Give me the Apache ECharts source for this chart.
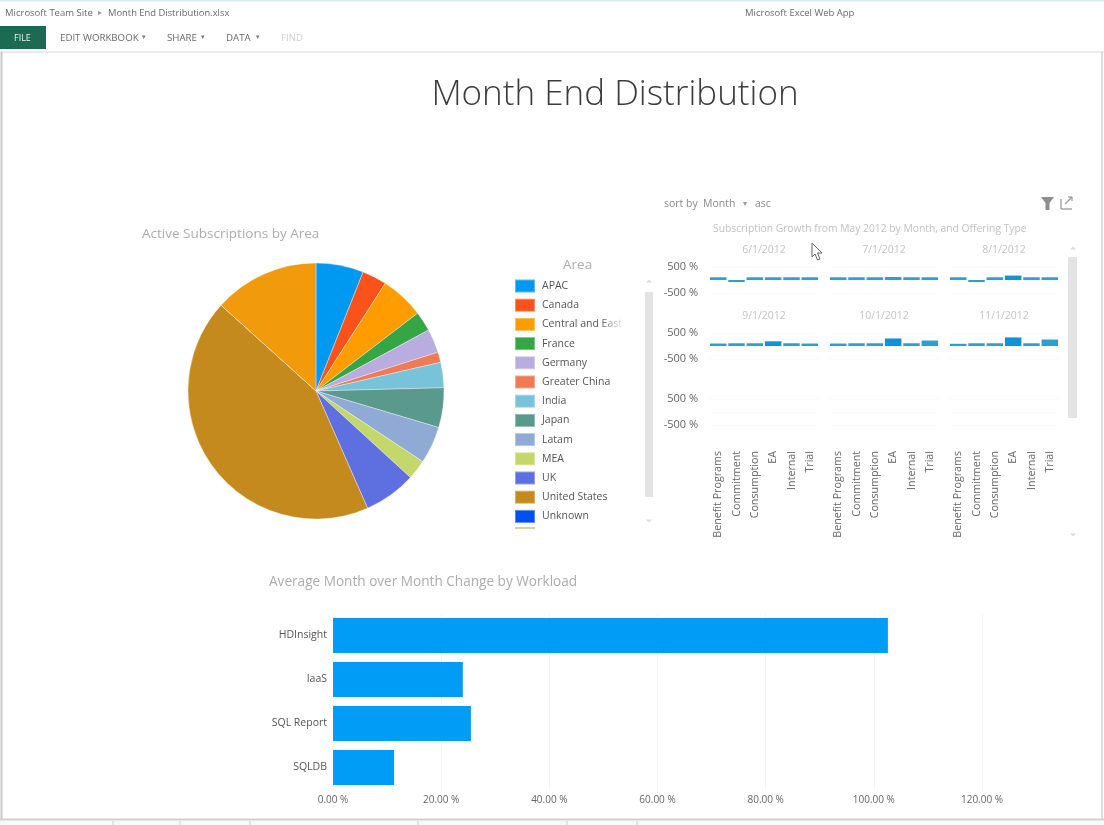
<!DOCTYPE html>
<html><head><meta charset="utf-8">
<style>html,body{margin:0;padding:0;background:#fff}#c{width:1104px;height:825px}</style>
<script src="https://cdn.jsdelivr.net/npm/echarts@6/dist/echarts.min.js"></script>
</head><body><div id="c"></div>
<script>
const areaNames = ['APAC','Canada','Central and East','France','Germany','Greater China','India','Japan','Latam','MEA','UK','United States','Unknown',''];
const areaValues = [6.0,3.1,5.5,2.5,3.0,1.3,3.2,5.0,4.7,2.5,6.6,43.3,0,13.3];
const areaColors = ['#0099f2','#f9521a','#ff9d00','#36a546','#b9addf','#ee7a56','#78c3da','#5a9a8c','#8faad4','#c4d76a','#5e70e0','#c58a1e','#0050ee','#f09a0c'];
const workloads = ['HDInsight','IaaS','SQL Report','SQLDB'];
const workloadChange = [102.6,24,25.5,11.3];
const offerings = ['Benefit Programs','Commitment','Consumption','EA','Internal','Trial'];
const months = ['6/1/2012','7/1/2012','8/1/2012','9/1/2012','10/1/2012','11/1/2012'];
const growth = [
  [105,-80,105,105,105,105],
  [105,105,105,115,105,105],
  [105,-80,105,170,105,105],
  [95,105,105,180,105,95],
  [95,105,105,290,105,210],
  [85,105,105,330,105,250],
  [],[],[]
];
const FONT = '"Open Sans","Noto Sans",sans-serif';

const grids=[], xAxes=[], yAxes=[], bars=[], gfx=[];
const colX=[709,829,949], rowY=[267,333,399];
for(let i=0;i<9;i++){
  const r=Math.floor(i/3), c=i%3;
  grids.push({left:colX[c],top:rowY[r],width:110,height:26,containLabel:false});
  xAxes.push({type:'category',gridIndex:i,data:offerings,axisLine:{show:false},axisTick:{show:false},
    axisLabel:{show:r===2,rotate:90,interval:0,margin:26,fontFamily:FONT,fontSize:10.7,color:'#666'}});
  yAxes.push({type:'value',gridIndex:i,min:-500,max:500,interval:500,axisLine:{show:false},axisTick:{show:false},
    splitLine:{show:true,lineStyle:{color:'#fbfbfb'}},
    axisLabel:{show:c===0,margin:11,padding:[4,0,0,0],fontFamily:FONT,fontSize:11,color:'#666',formatter:v=>v===0?'':v+' %'}});
  bars.push({type:'bar',xAxisIndex:i,yAxisIndex:i,data:growth[i],barWidth:16.5,silent:true,
    itemStyle:{color:p=>p.dataIndex===3&&p.value>130?'#0e92da':'#2d9fd4'}});
}
// bottom horizontal bar chart : grid index 9
grids.push({left:333,top:613.5,width:649,height:176});
xAxes.push({type:'value',gridIndex:9,min:0,max:120,interval:20,axisLine:{show:false},axisTick:{show:false},
  splitLine:{show:true,lineStyle:{color:'#f4f4f4'}},
  axisLabel:{margin:6,fontFamily:FONT,fontSize:10,color:'#666',formatter:v=>v.toFixed(2)+' %'}});
yAxes.push({type:'category',gridIndex:9,data:workloads,inverse:true,axisLine:{show:false},axisTick:{show:false},
  axisLabel:{margin:6,fontFamily:FONT,fontSize:10.5,color:'#555'}});
bars.push({type:'bar',xAxisIndex:9,yAxisIndex:9,data:workloadChange,barWidth:35,silent:true,itemStyle:{color:'#009cf5'}});

const txt=(x,y,t,size,color,extra)=>gfx.push({type:'text',x,y,silent:true,z:20,
  style:Object.assign({text:t,fontFamily:FONT,fontSize:size,fill:color,verticalAlign:'middle',align:'left'},extra||{})});
const rect=(x,y,w,h,fill,extra)=>gfx.push({type:'rect',silent:true,z:19,shape:{x,y,width:w,height:h},style:Object.assign({fill},extra||{})});
const line=(x1,y1,x2,y2,c,w)=>gfx.push({type:'line',silent:true,z:19,shape:{x1,y1,x2,y2},style:{stroke:c,lineWidth:w||1}});
const poly=(pts,fill,stroke)=>gfx.push({type:'polygon',silent:true,z:21,shape:{points:pts},style:{fill,stroke:stroke||null,lineWidth:1}});

// page chrome
rect(0,0,1104,1.5,'#d9eef6');
line(0,52,1104,52,'#d8d8d8',1.2);
line(1.5,52,1.5,819,'#c9c9c9',2);
line(1102,52,1102,819,'#d4d4d4',1.5);
line(0,819.5,1104,819.5,'#cfcfcf',2);
rect(0,821,1104,4,'#f8f8f8');
[113,180,250,418,567,637].forEach(x=>line(x,821,x,825,'#d0d0d0',1));
txt(5,13,'Microsoft Team Site',9.5,'#6a6a6a');
txt(98,13,'▸',8,'#999');
txt(108,13,'Month End Distribution.xlsx',9.4,'#6a6a6a');
txt(745,13,'Microsoft Excel Web App',9.5,'#6a6a6a');
rect(0,26,46,23,'#1c6a51');
txt(14,38,'FILE',9,'#e8f2ee');
txt(60,38,'EDIT WORKBOOK',9.7,'#6a6a6a');
txt(142,37,'▾',7,'#777');
txt(167,38,'SHARE',9.7,'#6a6a6a');
txt(201,37,'▾',7,'#777');
txt(226,38,'DATA',9.7,'#6a6a6a');
txt(256,37,'▾',7,'#777');
txt(281,38,'FIND',9.7,'#cfcfcf');

// sort bar and icons
txt(664,204,'sort by',10.5,'#8a8a8a');
txt(703,204,'Month',10.5,'#8a8a8a');
txt(743,204,'▾',8,'#999');
txt(755,204,'asc',10.5,'#8a8a8a');
poly([[1041,197],[1054,197],[1049.5,203],[1049.5,210],[1045.5,210],[1045.5,203]],'#8e8e8e');
line(1061,199,1061,209,'#9a9a9a',1.3); line(1061,209,1072,209,'#9a9a9a',1.3);
line(1065,204,1072,197,'#9a9a9a',1.2); line(1068,197,1072,197,'#9a9a9a',1.2); line(1072,197,1072,201,'#9a9a9a',1.2);
// cursor
poly([[812,243],[812,257],[815,254],[817.5,260],[820,259],[817.5,253],[822,253]],'#fff','#666');
// scrollbars
rect(645,292,8,205,'#e3e3e3');
rect(1068,257,9,161,'#e3e3e3');
[[649,281,1],[649,521,-1],[1073,248,1],[1073,535,-1]].forEach(a=>poly([[a[0]-3,a[1]+a[2]*1.5],[a[0]+3,a[1]+a[2]*1.5],[a[0],a[1]-a[2]*1.5]],'#dcdcdc'));
// legend: clipped next swatch and fade of the truncated label
rect(515,527,20,2,'#d6d2a0');
gfx.push({type:'rect',silent:true,z:22,shape:{x:600,y:316,width:26,height:15},
  style:{fill:{type:'linear',x:0,y:0,x2:1,y2:0,colorStops:[{offset:0,color:'rgba(255,255,255,0)'},{offset:1,color:'#fff'}]}}});

// chart headings
const titles=[
  {text:'Month End Distribution',left:615,top:78,textAlign:'center',padding:0,textStyle:{fontFamily:FONT,fontSize:35,fontWeight:300,color:'#3c3c3c'}},
  {text:'Active Subscriptions by Area',left:142,top:227,padding:0,textStyle:{fontFamily:FONT,fontSize:13.5,fontWeight:400,color:'#adadad'}},
  {text:'Area',left:563,top:258,padding:0,textStyle:{fontFamily:FONT,fontSize:13.5,fontWeight:400,color:'#adadad'}},
  {text:'Subscription Growth from May 2012 by Month, and Offering Type',left:713,top:224,padding:0,textStyle:{fontFamily:FONT,fontSize:10.3,fontWeight:400,color:'#c2c2c2'}},
  {text:'Average Month over Month Change by Workload',left:269,top:575,padding:0,textStyle:{fontFamily:FONT,fontSize:13.6,fontWeight:400,color:'#adadad'}}
];
months.forEach((m,i)=>{
  const c=i%3,r=Math.floor(i/3);
  titles.push({text:m,left:colX[c]+55,top:[245,311][r],textAlign:'center',padding:0,textStyle:{fontFamily:FONT,fontSize:10.5,fontWeight:400,color:'#c4c4c4'}});
});

const chart=echarts.init(document.getElementById('c'),null,{renderer:'canvas'});
chart.setOption({
  animation:false,backgroundColor:'#fff',
  title:titles,
  tooltip:{show:false},
  legend:{orient:'vertical',left:509,top:273.5,itemWidth:20,itemHeight:13,itemGap:4.2,selectedMode:false,
    icon:'rect',data:areaNames.slice(0,13),
    textStyle:{fontFamily:FONT,fontSize:10.5,color:'#555',lineHeight:13,padding:[0,0,0,2]}},
  grid:grids,xAxis:xAxes,yAxis:yAxes,
  graphic:gfx,
  series:[...bars,{
    type:'pie',center:[316,391],radius:[0,128],startAngle:90,clockwise:true,silent:true,
    label:{show:false},labelLine:{show:false},
    itemStyle:{borderColor:'rgba(255,255,255,0.35)',borderWidth:1},
    data:areaNames.map((n,i)=>({name:n,value:areaValues[i],itemStyle:{color:areaColors[i]}}))
  }]
});
</script></body></html>
